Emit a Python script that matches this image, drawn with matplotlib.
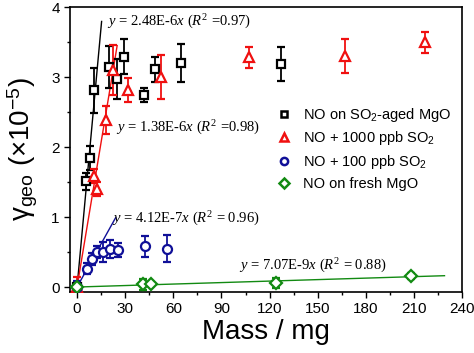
import matplotlib
matplotlib.use("Agg")
import matplotlib.pyplot as plt
from matplotlib.lines import Line2D
import numpy as np

plt.rcParams['font.family'] = ['Liberation Sans', 'DejaVu Sans']
plt.rcParams['mathtext.fontset'] = 'custom'
plt.rcParams['mathtext.rm'] = 'Liberation Serif'
plt.rcParams['mathtext.it'] = 'Liberation Serif:italic'
plt.rcParams['mathtext.sf'] = 'Liberation Sans'

# NO on SO2-aged MgO
aged_x = [0, 5.4, 8.3, 10.7, 20, 25, 29.5, 41.5, 48.5, 64.8, 127]
aged_y = [0, 1.51, 1.84, 2.81, 3.14, 2.97, 3.29, 2.74, 3.11, 3.20, 3.19]
aged_e = [0.05, 0.12, 0.17, 0.32, 0.30, 0.29, 0.25, 0.10, 0.18, 0.27, 0.24]

# NO + 1000 ppb SO2
so2_1000_x = [0, 10.7, 12.6, 17.8, 22.4, 31.9, 52.6, 107, 167, 216.8]
so2_1000_y = [0, 1.59, 1.40, 2.39, 3.10, 2.82, 3.00, 3.28, 3.30, 3.50]
so2_1000_e = [0.15, 0.10, 0.10, 0.20, 0.36, 0.17, 0.31, 0.15, 0.24, 0.15]

# NO + 100 ppb SO2
so2_100_x = [0, 6, 9.5, 12.6, 16.3, 20.5, 25.7, 42.2, 56.3]
so2_100_y = [0, 0.26, 0.40, 0.50, 0.50, 0.54, 0.53, 0.58, 0.55]
so2_100_e = [0.08, 0.08, 0.09, 0.08, 0.14, 0.13, 0.10, 0.15, 0.19]

# NO on fresh MgO
fresh_x = [0, 41.2, 45.8, 124, 208]
fresh_y = [0, 0.04, 0.04, 0.06, 0.16]
fresh_e = [0.03, 0.08, 0.03, 0.07, 0.04]

# linear fits, slopes in units of 1e-5 per mg
slopes = [0.248, 0.138, 0.0412, 0.000707]
fit_xmax = [15.3, 25, 24, 229]
fit_text = [r'$y$ = 2.48E-6$x$ ($R^2$ =0.97)',
            r'$y$ = 1.38E-6$x$ ($R^2$ =0.98)',
            r'$y$ = 4.12E-7$x$ ($R^2$ = 0.96)',
            r'$y$ = 7.07E-9$x$ ($R^2$ = 0.88)']
text_pos = [(18.6, 3.79), (24, 2.27), (21.5, 0.97), (101, 0.30)]

labels = [r'NO on SO$_\mathsf{2}$-aged MgO', r'NO + 1000 ppb SO$_\mathsf{2}$',
          r'NO + 100 ppb SO$_\mathsf{2}$', 'NO on fresh MgO']
colors = ['black', '#f01010', '#101098', '#128a12']
markers = ['s', '^', 'o', 'D']
msizes = [5.5, 7.5, 6.5, 6]

series = [(aged_x, aged_y, aged_e), (so2_1000_x, so2_1000_y, so2_1000_e),
          (so2_100_x, so2_100_y, so2_100_e), (fresh_x, fresh_y, fresh_e)]

fig = plt.figure(figsize=(4.74, 3.53), dpi=100)
ax = fig.add_axes([0.148, 0.173, 0.827, 0.807])

for i in range(4):
    xx = np.linspace(0, fit_xmax[i], 50)
    ax.plot(xx, slopes[i] * xx, '-', color=colors[i], lw=1.0, zorder=2)

for (x, y, e), c, m, ms in zip(series, colors, markers, msizes):
    ax.errorbar(x, y, yerr=e, fmt=m, color=c, mfc='white', mec=c, mew=1.6,
                ms=ms, ecolor=c, elinewidth=1.3, capsize=3, capthick=1.3,
                zorder=3)

for t, (tx, ty), c in zip(fit_text, text_pos, colors):
    ax.text(tx, ty, t, fontsize=10.5, family='Liberation Serif',
            va='center', ha='left')

handles = [Line2D([], [], ls='none', marker=m, color=c, mfc='white', mec=c,
                  mew=1.8, ms=ms * 0.8) for c, m, ms in zip(colors, markers, msizes)]
ax.legend(handles, labels, loc='upper left', bbox_to_anchor=(0.49, 0.70),
          frameon=False, fontsize=10.5, handletextpad=0.7, labelspacing=0.4,
          handlelength=1.2)

ax.set_xlim(-4.3, 240)
ax.set_ylim(-0.07, 4)
ax.set_xticks(np.arange(0, 241, 30))
ax.set_xticks(np.arange(15, 241, 30), minor=True)
ax.set_yticks(np.arange(0, 5, 1))
ax.set_yticks(np.arange(0.5, 4, 1), minor=True)
ax.tick_params(which='both', direction='out', top=False, right=False,
               labelsize=11, width=1.0)
ax.tick_params(which='major', length=4)
ax.tick_params(which='minor', length=2.5)
for s in ax.spines.values():
    s.set_linewidth(1.2)

ax.set_xlabel('Mass / mg', fontsize=20, labelpad=2)
ax.set_ylabel(r'$\mathsf{\gamma_{geo}}$ (×10$^{\mathsf{-5}}$)', fontsize=20,
              labelpad=8)

fig.savefig('out.png', dpi=100)
